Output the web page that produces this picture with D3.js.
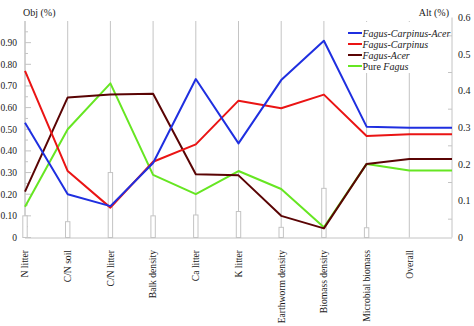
<!DOCTYPE html>
<html><head><meta charset="utf-8">
<script src="https://cdn.jsdelivr.net/npm/d3@7"></script>
<style>body{margin:0;background:#fff}svg{display:block}</style>
</head><body>
<svg id="c" width="474" height="326" font-family="'Liberation Serif', 'DejaVu Serif', 'Times New Roman', serif"></svg>
<script>
const categories = ["N litter","C/N soil","C/N litter","Balk density","Ca litter","K litter","Earthworm density","Biomass density","Microbial biomass","Overall"];
const seriesNames = ["Fagus-Carpinus-Acer","Fagus-Carpinus","Fagus-Acer","Pure Fagus"];
const fcaValues = [0.53,0.20,0.145,0.344,0.732,0.435,0.727,0.909,0.512,0.507];
const fcValues  = [0.77,0.307,0.138,0.35,0.43,0.632,0.597,0.66,0.469,0.477];
const faValues  = [0.212,0.647,0.661,0.664,0.292,0.287,0.10,0.042,0.34,0.363];
const pfValues  = [0.142,0.50,0.712,0.289,0.20,0.307,0.224,0.047,0.34,0.309];
const barValues = [0.10,0.073,0.30,0.10,0.104,0.12,0.047,0.227,0.045,0];
const leftTicks = [0,0.1,0.2,0.3,0.4,0.5,0.6,0.7,0.8,0.9];
const leftTickLabels = ["0","0.10","0.20","0.30","0.40","0.50","0.60","0.70","0.80","0.90"];
const rightTicks = [0,0.1,0.2,0.3,0.4,0.5,0.6];
const rightTickLabels = ["0","0.1","0.2","0.3","0.4","0.5","0.6"];
const colors = ["#1f2fe0","#ea1414","#5a0404","#66e622"];

(function(){
const svg = d3.select("#c");
const x = d3.scaleLinear().domain([0, categories.length]).range([25, 452]);
const yL = d3.scaleLinear().domain([0, 1.0]).range([237.5, 21]);
const yR = d3.scaleLinear().domain([0, 0.6]).range([237.5, 17.5]);
const gridC = "#c4c4c4";
const txtC = "#1a1a1a";
const yTop = yL(1.0), yBot = yL(0);

svg.append("g").selectAll("line").data(categories).join("line")
  .attr("x1",(d,i)=>x(i)).attr("x2",(d,i)=>x(i)).attr("y1",yTop).attr("y2",yBot)
  .attr("stroke",gridC).attr("stroke-width",1);

svg.append("line").attr("x1",x(0)).attr("x2",x(categories.length)).attr("y1",yBot+0.5).attr("y2",yBot+0.5).attr("stroke",gridC);

const la = svg.append("g");
la.append("line").attr("x1",x(0)).attr("x2",x(0)).attr("y1",yTop).attr("y2",yBot).attr("stroke",gridC);
d3.range(0,20).forEach(k=>{
  const v=k*0.05, maj=k%2===0;
  la.append("line").attr("x1",x(0)).attr("x2",x(0)+(maj?6:3)).attr("y1",yL(v)).attr("y2",yL(v)).attr("stroke",gridC);
});
la.selectAll("text").data(leftTicks).join("text")
  .attr("x",17).attr("y",d=>yL(d)).attr("dy","0.35em").attr("text-anchor","end")
  .attr("font-size",9.5).attr("fill",txtC).text((d,i)=>leftTickLabels[i]);
svg.append("text").attr("x",23).attr("y",16).attr("font-size",10).attr("fill",txtC).text("Obj (%)");

const ra = svg.append("g");
const xr = x(categories.length);
ra.append("line").attr("x1",xr).attr("x2",xr).attr("y1",yR(0.6)).attr("y2",yBot).attr("stroke",gridC);
d3.range(0,13).forEach(k=>{
  const v=k*0.05, maj=k%2===0;
  ra.append("line").attr("x1",xr).attr("x2",xr-(maj?0:4)).attr("y1",yR(v)).attr("y2",yR(v)).attr("stroke",gridC);
});
ra.selectAll("text").data(rightTicks).join("text")
  .attr("x",458).attr("y",d=>yR(d)).attr("dy","0.35em").attr("text-anchor","start")
  .attr("font-size",10).attr("fill",txtC).text((d,i)=>rightTickLabels[i]);
svg.append("text").attr("x",449).attr("y",16).attr("text-anchor","end").attr("font-size",10).attr("fill",txtC).text("Alt (%)");

svg.append("g").selectAll("rect").data(barValues).join("rect")
  .attr("x",(d,i)=>x(i)-2.2).attr("width",4.4)
  .attr("y",d=>yL(d)).attr("height",d=>Math.max(0,yBot-yL(d)))
  .attr("fill","#fff").attr("stroke","#c4c4c4").attr("stroke-width",1)
  .style("display",d=>d>0?null:"none");

const allSeries=[fcaValues,fcValues,faValues,pfValues];
const line = d3.line().x(d=>x(d[0])).y(d=>yL(d[1]));
[3,2,1,0].forEach(s=>{
  const vals=allSeries[s];
  const pts=vals.map((v,i)=>[i,v]);
  pts.push([categories.length, vals[vals.length-1]]);
  svg.append("path").attr("d",line(pts)).attr("fill","none")
    .attr("stroke",colors[s]).attr("stroke-width",2).attr("stroke-linejoin","round");
});

const lg = svg.append("g");
lg.append("rect").attr("x",345).attr("y",yTop+1).attr("width",100).attr("height",51).attr("fill","#fff");
const ly=[33,44,55,66];
seriesNames.forEach((n,i)=>{
  lg.append("line").attr("x1",348).attr("x2",362).attr("y1",ly[i]).attr("y2",ly[i]).attr("stroke",colors[i]).attr("stroke-width",2);
  const t=lg.append("text").attr("x",362.5).attr("y",ly[i]).attr("dy","0.35em").attr("font-size",10).attr("fill",txtC);
  if(n.startsWith("Pure ")){
    t.append("tspan").text("Pure ");
    t.append("tspan").attr("font-style","italic").text(n.slice(5));
  } else t.attr("font-style","italic").text(n);
});

svg.append("g").selectAll("text").data(categories).join("text")
  .attr("transform",(d,i)=>`translate(${x(i)},250) rotate(-90)`)
  .attr("text-anchor","end").attr("dy","0.35em").attr("font-size",9.6).attr("fill",txtC).text(d=>d);
})();
</script>
</body></html>
